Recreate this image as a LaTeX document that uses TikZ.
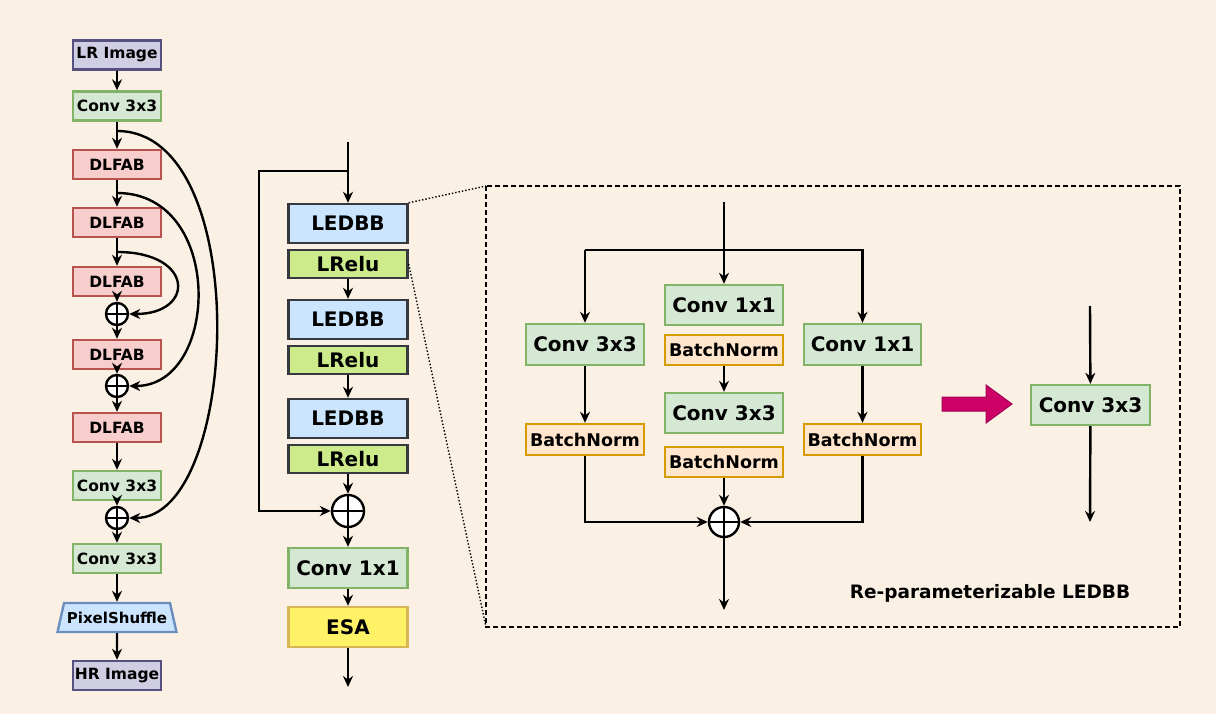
\documentclass[tikz,border=0pt]{standalone}
\usepackage{fontspec}
\setmainfont{DejaVu Sans}
\usetikzlibrary{shapes.geometric,arrows.meta}
\definecolor{bg}{HTML}{FAF0E4}
\definecolor{gf}{HTML}{D5E8D4}\definecolor{gs}{HTML}{82B366}
\definecolor{rf}{HTML}{F8CECC}\definecolor{rs}{HTML}{B85450}
\definecolor{pf}{HTML}{D0CEE2}\definecolor{ps}{HTML}{56517E}
\definecolor{bf}{HTML}{CCE5FF}\definecolor{bs}{HTML}{36393D}
\definecolor{lf}{HTML}{CDEB8B}
\definecolor{yf}{HTML}{FFF266}\definecolor{ys}{HTML}{D6B656}
\definecolor{of}{HTML}{FFE6CC}\definecolor{os}{HTML}{D79B00}
\definecolor{tf}{HTML}{CCE5FF}\definecolor{ts}{HTML}{6C8EBF}
\definecolor{mag}{HTML}{CC0066}
\begin{document}
\begin{tikzpicture}[x=1pt,y=-1pt,
 box/.style={draw,line width=2.4pt,font=\bfseries,inner sep=0pt},
 sm/.style={box,minimum width=88pt,minimum height=29pt,font=\bfseries\fontsize{15.5}{15.5}\selectfont},
 md/.style={box,minimum width=119pt,minimum height=39pt,font=\bfseries\fontsize{20}{20}\selectfont},
 th/.style={box,minimum width=118pt,minimum height=29pt,font=\bfseries\fontsize{17.5}{17.5}\selectfont},
 G/.style={fill=gf,draw=gs},R/.style={fill=rf,draw=rs},P/.style={fill=pf,draw=ps},
 B/.style={fill=bf,draw=bs},L/.style={fill=lf,draw=bs},O/.style={fill=of,draw=os},
 pl/.style={circle,draw,line width=2.4pt,fill=white,minimum size=#1,inner sep=0pt,
   path picture={\draw[line width=2pt](path picture bounding box.north)--(path picture bounding box.south)(path picture bounding box.west)--(path picture bounding box.east);}},
 ar/.style={line width=2.4pt,-{Stealth[length=11pt,width=10pt]}},
 ln/.style={line width=2.4pt}]
\fill[bg](0,0)rectangle(1216,714);
% left column
\node[sm,P](a1)at(117,55){LR Image};
\node[sm,G](a2)at(117,106){Conv 3x3};
\node[sm,R](a3)at(117,164.5){DLFAB};
\node[sm,R](a4)at(117,222.5){DLFAB};
\node[sm,R](a5)at(117,281.5){DLFAB};
\node[pl=22pt](p1)at(117,314){};
\node[sm,R](a6)at(117,354.5){DLFAB};
\node[pl=22pt](p2)at(117,386){};
\node[sm,R](a7)at(117,427.5){DLFAB};
\node[sm,G](a8)at(117,485.5){Conv 3x3};
\node[pl=22pt](p3)at(117,518){};
\node[sm,G](a9)at(117,558.5){Conv 3x3};
\node[trapezium,trapezium left angle=62,trapezium right angle=62,draw=ts,fill=tf,line width=2.4pt,minimum width=119pt,minimum height=29pt,inner sep=0pt,trapezium stretches=true,font=\bfseries\fontsize{15}{15}\selectfont](a10)at(117,617.5){PixelShuffle};
\node[sm,P](a11)at(117,675.5){HR Image};
\draw[ar](a1)--(a2);\draw[ar](a2)--(a3);\draw[ar](a3)--(a4);\draw[ar](a4)--(a5);
\draw[ar](a5)--(p1);\draw[ar](p1)--(a6);\draw[ar](a6)--(p2);\draw[ar](p2)--(a7);
\draw[ar](a7)--(a8);\draw[ar](a8)--(p3);\draw[ar](p3)--(a9);\draw[ar](a9)--(a10);\draw[ar](a10)--(a11);
\coordinate(c1)at(117,131);\coordinate(c2)at(117,193);\coordinate(c3)at(117,252);
\draw[ar](c1)..controls(255,131)and(240,518)..(p3.east);
\draw[ar](c2)..controls(225,193)and(220,386)..(p2.east);
\draw[ar](c3)..controls(195,252)and(195,314)..(p1.east);
% middle column
\coordinate(mt)at(348,142);
\node[md,B](b1)at(348,223.5){LEDBB};
\node[box,L,minimum width=119pt,minimum height=28pt,font=\bfseries\fontsize{20}{20}\selectfont](b2)at(348,264){LRelu};
\node[md,B](b3)at(348,319.5){LEDBB};
\node[box,L,minimum width=119pt,minimum height=28pt,font=\bfseries\fontsize{20}{20}\selectfont](b4)at(348,360){LRelu};
\node[md,B](b5)at(348,418.5){LEDBB};
\node[box,L,minimum width=119pt,minimum height=28pt,font=\bfseries\fontsize{20}{20}\selectfont](b6)at(348,459){LRelu};
\node[pl=32pt](mp)at(348,511){};
\node[md,G,minimum height=40pt](b7)at(348,568){Conv 1x1};
\node[md,fill=yf,draw=ys,minimum height=40pt](b8)at(348,627){ESA};
\coordinate(mo)at(348,687);
\draw[ar](mt)--(b1);\draw[ar](b2)--(b3);\draw[ar](b4)--(b5);\draw[ar](b6)--(mp);
\draw[ar](mp)--(b7);\draw[ar](b7)--(b8);\draw[ar](b8)--(mo);
\coordinate(ms)at(348,171);
\draw[ar](ms)-|(259,511)--(mp.west);
% zoom box
\draw[dash pattern=on 5pt off 3pt,line width=1.4pt](486,186)rectangle(1180,627);
\draw[dotted,line width=1.4pt](b1.north east)--(486,186);
\draw[dotted,line width=1.4pt](b2.east)--(486,627);
% right
\coordinate(rt)at(724,202);
\node[md,G,minimum width=118pt,minimum height=41pt](r1)at(585,344.5){Conv 3x3};
\node[md,G,minimum width=118pt,minimum height=40pt](r2)at(724,305){Conv 1x1};
\node[md,G,minimum width=117pt,minimum height=41pt](r3)at(862.5,344.5){Conv 1x1};
\node[th,O,minimum height=31pt](n1)at(585,439.5){BatchNorm};
\node[th,O,minimum height=30pt](n2)at(724,350){BatchNorm};
\node[md,G,minimum width=118pt,minimum height=40pt](r4)at(724,413){Conv 3x3};
\node[th,O,minimum height=30pt](n3)at(724,462){BatchNorm};
\node[th,O,minimum width=117pt,minimum height=31pt](n4)at(862.5,439.5){BatchNorm};
\node[pl=30pt](rp)at(724,522){};
\coordinate(ro)at(724,610);
\draw[ar](rt)--(r2);
\draw[ar](585,250)--(862.5,250)--(r3.north);
\draw[ar](585,250)--(r1.north);
\draw[ar](r1)--(n1);\draw[ar](r3)--(n4);\draw[ar](n2)--(r4);
\draw[ar](n3)--(rp);
\draw[ar](n1.south)|-(rp.west);\draw[ar](n4.south)|-(rp.east);
\draw[ar](rp)--(ro);
\draw[draw=mag!80!black,fill=mag,line width=1pt](942,397)--(986,397)--(986,385)--(1012,404)--(986,423)--(986,411)--(942,411)--cycle;
\coordinate(ft)at(1090,306);\coordinate(fo)at(1090,522);
\node[md,G,minimum width=119pt,minimum height=40pt](f1)at(1090.5,405){Conv 3x3};
\draw[ar](ft)--(f1);\draw[ar](f1)--(fo);
\node[font=\bfseries\fontsize{18.5}{18.5}\selectfont](lbl)at(990,593){Re-parameterizable LEDBB};
\end{tikzpicture}
\end{document}
